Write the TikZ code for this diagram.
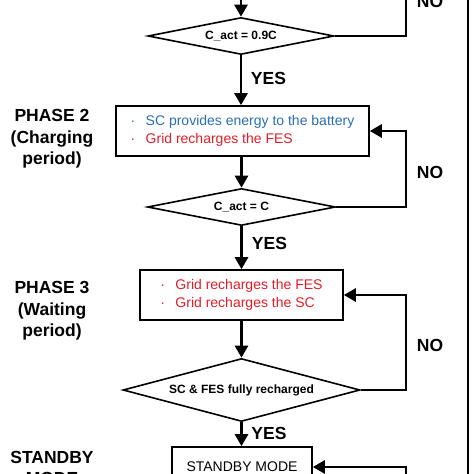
\documentclass[tikz,border=0pt]{standalone}
\usepackage{fontspec}
\setmainfont{Liberation Sans}
\usetikzlibrary{shapes.geometric,arrows.meta}
\definecolor{txtblue}{RGB}{40,110,180}
\definecolor{txtred}{RGB}{225,30,40}
\tikzset{
  flowline/.style={line width=2.6pt},
  flowarrow/.style={line width=2.6pt,-{Triangle[width=13pt,length=12pt]}},
  procbox/.style={draw,line width=1.6pt,rectangle,inner sep=0pt,font=\fontsize{14}{17.5}\selectfont},
  decision/.style={draw,line width=1.6pt,diamond,inner sep=0pt,font=\fontsize{12}{14}\selectfont\bfseries},
  biglabel/.style={font=\fontsize{17.5}{21.5}\selectfont\bfseries,align=center,inner sep=0pt},
}
\newcommand{\bul}[1]{\makebox[15pt][l]{#1·}}
\begin{document}
\begin{tikzpicture}[x=1pt,y=-1pt]
\useasboundingbox (0,0) rectangle (474,474);
\clip (0,0) rectangle (474,474);

% nodes
\node[decision,shape aspect=5.03,minimum width=186pt,minimum height=37pt] (d1) at (241,36) {C\_act = 0.9C};
\node[procbox,minimum width=253pt,minimum height=50pt,align=left] (b1) at (242.5,131)
  {\bul{\color{txtblue}}\textcolor{txtblue}{SC provides energy to the battery}\\
   \bul{\color{txtred}}\textcolor{txtred}{Grid recharges the FES}};
\node[decision,shape aspect=5.08,minimum width=188pt,minimum height=37pt] (d2) at (241.5,207) {C\_act = C};
\node[procbox,minimum width=203pt,minimum height=50pt,align=left] (b2) at (241.5,295)
  {\bul{\color{txtred}}\textcolor{txtred}{Grid recharges the FES}\\
   \bul{\color{txtred}}\textcolor{txtred}{Grid recharges the SC}};
\node[decision,shape aspect=3.76,minimum width=237pt,minimum height=63pt] (d3) at (241.5,390) {SC \& FES fully recharged};
\node[procbox,minimum width=140pt,minimum height=40pt] (b3) at (242,467) {STANDBY MODE};

% left labels
\node[biglabel] (p2) at (52,139) {PHASE 2\\(Charging\\period)};
\node[biglabel] (p3) at (52,311) {PHASE 3\\(Waiting\\period)};
\node[biglabel] (p4) at (52,468) {STANDBY\\MODE};

% free ends
\coordinate (topin) at (241,-10);
\coordinate (loopA) at (406,-10);
\coordinate (loopB) at (406,490);
\coordinate (railtop) at (468,-10);
\coordinate (railbot) at (468,490);

% connectors
\draw[flowarrow] (topin) -- (d1.north);
\draw[flowarrow] (d1.south) -- (d1.south |- b1.north);
\draw[flowarrow] (b1.south -| d2.north) -- (d2.north);
\draw[flowarrow] (d2.south) -- (d2.south |- b2.north);
\draw[flowarrow] (b2.south -| d3.north) -- (d3.north);
\draw[flowarrow] (d3.south) -- (d3.south |- b3.north);

\draw[flowline] (d1.east) -| (loopA);
\draw[flowarrow] (d2.east) -| (406,170) |- (b1.east);
\draw[flowarrow] (d3.east) -| (406,340) |- (b2.east);
\draw[flowarrow] (loopB) |- (b3.east);
\draw[flowline] (railtop) -- (railbot);

% YES / NO labels
\node[biglabel] (y1) at (268.5,78) {YES};
\node[biglabel] (y2) at (269.5,243) {YES};
\node[biglabel] (y3) at (269,433) {YES};
\node[biglabel] (n1) at (430,1) {NO};
\node[biglabel] (n2) at (430,172) {NO};
\node[biglabel] (n3) at (430,345) {NO};
\end{tikzpicture}
\end{document}
